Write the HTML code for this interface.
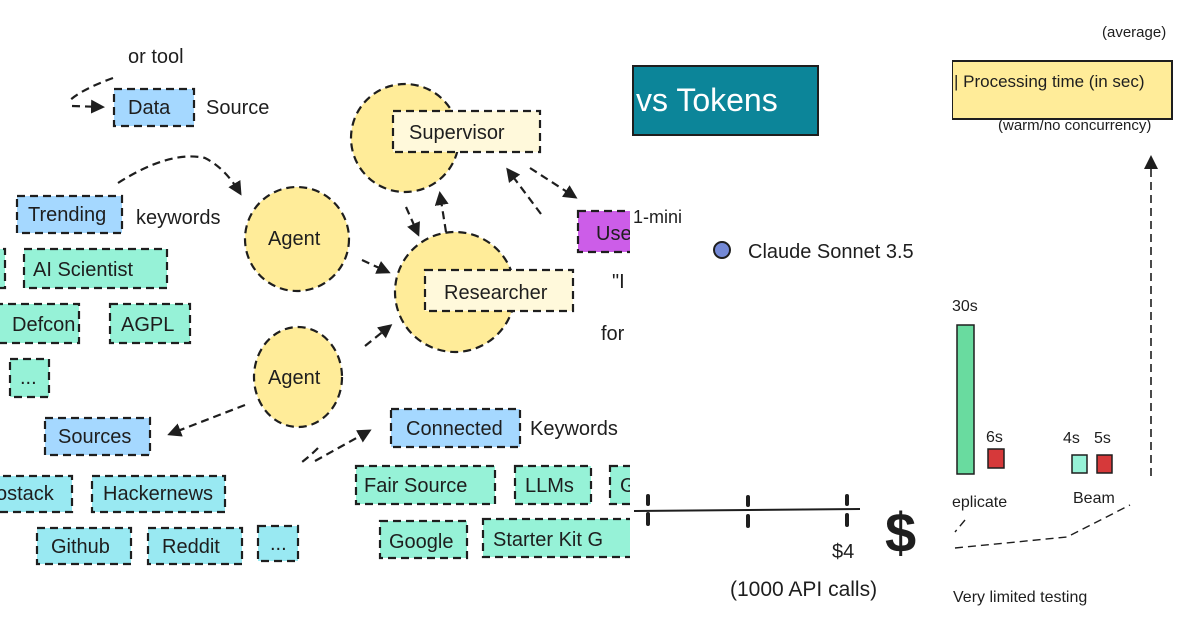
<!DOCTYPE html>
<html><head><meta charset="utf-8"><style>
html,body{margin:0;padding:0;background:#fff;width:1200px;height:630px;overflow:hidden}
text{font-family:"Liberation Sans",sans-serif;fill:#1e1e1e}
</style></head><body>
<svg width="1200" height="630" viewBox="0 0 1200 630" xmlns="http://www.w3.org/2000/svg">
<defs>
<marker id="ah" markerWidth="14" markerHeight="14" refX="11" refY="7" orient="auto" markerUnits="userSpaceOnUse"><path d="M0,0 L14,7 L0,14 z" fill="#1e1e1e"/></marker>
<clipPath id="lp"><rect x="0" y="0" width="630" height="630"/></clipPath>
</defs>
<g clip-path="url(#lp)">
<g stroke="#1e1e1e" stroke-width="2.2" stroke-dasharray="8,5">
<circle cx="405" cy="138" r="54" fill="#ffec99"/>
<circle cx="297" cy="239" r="52" fill="#ffec99"/>
<circle cx="455" cy="292" r="60" fill="#ffec99"/>
<ellipse cx="298" cy="377" rx="44" ry="50" fill="#ffec99"/>
<rect x="114" y="89" width="80" height="37" fill="#a5d8ff"/>
<rect x="393" y="111" width="147" height="41" fill="#fff9db"/>
<rect x="425" y="270" width="148" height="41" fill="#fff9db"/>
<rect x="578" y="211" width="60" height="41" fill="#cc5de8"/>
<rect x="17" y="196" width="105" height="37" fill="#a5d8ff"/>
<rect x="-10" y="249" width="15" height="39" fill="#96f2d7"/>
<rect x="24" y="249" width="143" height="39" fill="#96f2d7"/>
<rect x="-5" y="304" width="84" height="39" fill="#96f2d7"/>
<rect x="110" y="304" width="80" height="39" fill="#96f2d7"/>
<rect x="10" y="359" width="39" height="38" fill="#96f2d7"/>
<rect x="45" y="418" width="105" height="37" fill="#a5d8ff"/>
<rect x="-10" y="476" width="82" height="36" fill="#99e9f2"/>
<rect x="92" y="476" width="133" height="36" fill="#99e9f2"/>
<rect x="37" y="528" width="94" height="36" fill="#99e9f2"/>
<rect x="148" y="528" width="94" height="36" fill="#99e9f2"/>
<rect x="258" y="526" width="40" height="35" fill="#99e9f2"/>
<rect x="391" y="409" width="129" height="38" fill="#a5d8ff"/>
<rect x="356" y="466" width="139" height="38" fill="#96f2d7"/>
<rect x="515" y="466" width="76" height="38" fill="#96f2d7"/>
<rect x="610" y="466" width="30" height="38" fill="#96f2d7"/>
<rect x="380" y="521" width="87" height="37" fill="#96f2d7"/>
<rect x="483" y="519" width="160" height="38" fill="#96f2d7"/>
<g fill="none">
<path d="M113,78 Q80,90 68,102" />
<path d="M72,106 L102,107" marker-end="url(#ah)"/>
<path d="M118,183 Q170,150 205,158 Q225,168 240,193" marker-end="url(#ah)"/>
<path d="M362,260 L388,272" marker-end="url(#ah)"/>
<path d="M406,207 L418,234" marker-end="url(#ah)"/>
<path d="M446,232 L440,194" marker-end="url(#ah)"/>
<path d="M530,168 L575,197" marker-end="url(#ah)"/>
<path d="M541,214 L508,170" marker-end="url(#ah)"/>
<path d="M365,346 L390,326" marker-end="url(#ah)"/>
<path d="M245,405 L170,434" marker-end="url(#ah)"/>
<path d="M318,448 Q310,456 302,462" />
<path d="M315,461 L369,431" marker-end="url(#ah)"/>
</g>
</g>
<g font-size="20">
<text x="128" y="63">or tool</text>
<text x="128" y="114">Data</text>
<text x="206" y="114">Source</text>
<text x="409" y="139">Supervisor</text>
<text x="28" y="221">Trending</text>
<text x="136" y="224">keywords</text>
<text x="268" y="245">Agent</text>
<text x="444" y="299">Researcher</text>
<text x="596" y="240">Use</text>
<text x="612" y="288">"I</text>
<text x="601" y="340">for</text>
<text x="33" y="276">AI Scientist</text>
<text x="12" y="331">Defcon</text>
<text x="121" y="331">AGPL</text>
<text x="20" y="384">...</text>
<text x="268" y="384">Agent</text>
<text x="58" y="443">Sources</text>
<text x="-4" y="500">ostack</text>
<text x="103" y="500">Hackernews</text>
<text x="51" y="553">Github</text>
<text x="162" y="553">Reddit</text>
<text x="270" y="550">...</text>
<text x="406" y="435">Connected</text>
<text x="530" y="435">Keywords</text>
<text x="364" y="492">Fair Source</text>
<text x="525" y="492">LLMs</text>
<text x="620" y="492">G</text>
<text x="389" y="548">Google</text>
<text x="493" y="546">Starter Kit G</text>
</g>
</g>
<g stroke="#1e1e1e" stroke-width="1.6" stroke-dasharray="8,5" fill="none">
<path d="M1151,476 L1151,158" marker-end="url(#ah)"/>
<path d="M965,520 L955,532" stroke-width="1.4"/>
<path d="M955,548 L1067,537 L1130,505" stroke-width="1.4"/>
</g>
<rect x="633" y="66" width="185" height="69" fill="#0c8599" stroke="#1e1e1e" stroke-width="2"/>
<text x="636" y="111" font-size="32" style="fill:#fff">vs Tokens</text>
<text x="633" y="223" font-size="18">1-mini</text>
<circle cx="722" cy="250" r="8" fill="#7489d6" stroke="#1e1e1e" stroke-width="2"/>
<text x="748" y="258" font-size="20">Claude Sonnet 3.5</text>
<line x1="634" y1="511" x2="860" y2="509" stroke="#1e1e1e" stroke-width="2"/>
<g stroke="#1e1e1e" stroke-width="4" stroke-linecap="round">
<line x1="648" y1="496" x2="648" y2="504"/><line x1="648" y1="514" x2="648" y2="524"/>
<line x1="748" y1="497" x2="748" y2="505"/><line x1="748" y1="516" x2="748" y2="526"/>
<line x1="847" y1="496" x2="847" y2="504"/><line x1="847" y1="515" x2="847" y2="525"/>
</g>
<text x="832" y="558" font-size="20">$4</text>
<text x="885" y="552" font-size="56" font-weight="bold">$</text>
<text x="730" y="596" font-size="21">(1000 API calls)</text>
<rect x="952" y="61" width="220" height="58" fill="#ffec99" stroke="#1e1e1e" stroke-width="2"/>
<rect x="945" y="58" width="7" height="64" fill="#fff"/>
<text x="954" y="87" font-size="17">| Processing time (in sec)</text>
<text x="1102" y="37" font-size="15">(average)</text>
<text x="998" y="130" font-size="15">(warm/no concurrency)</text>
<rect x="957" y="325" width="17" height="149" fill="#69db9f" stroke="#1e1e1e" stroke-width="1.5"/>
<rect x="988" y="449" width="16" height="19" fill="#d6393a" stroke="#1e1e1e" stroke-width="1.5"/>
<rect x="1072" y="455" width="15" height="18" fill="#96f2d7" stroke="#1e1e1e" stroke-width="1.5"/>
<rect x="1097" y="455" width="15" height="18" fill="#d6393a" stroke="#1e1e1e" stroke-width="1.5"/>
<g font-size="16">
<text x="952" y="311">30s</text>
<text x="986" y="442">6s</text>
<text x="1063" y="443">4s</text>
<text x="1094" y="443">5s</text>
<text x="952" y="507">eplicate</text>
<text x="1073" y="503">Beam</text>
<text x="953" y="602">Very limited testing</text>
</g>
</svg>
</body></html>
